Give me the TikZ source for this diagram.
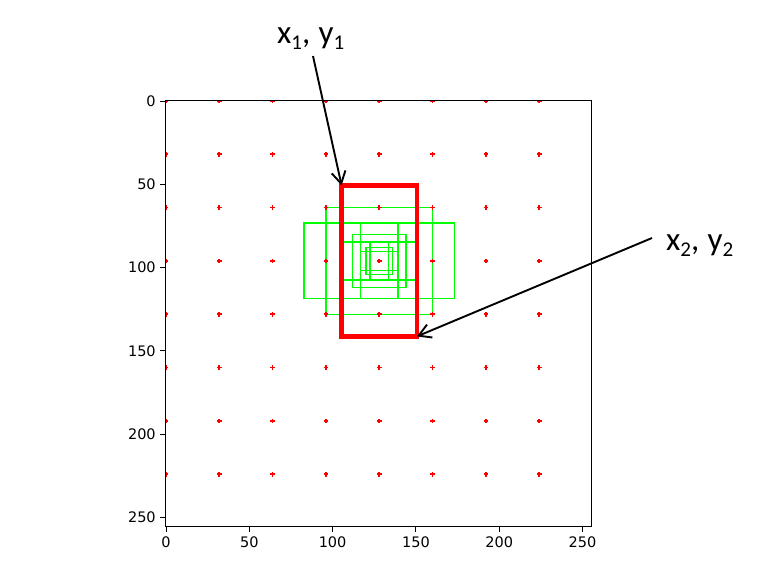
\documentclass[tikz,border=0pt]{standalone}
\usepackage{fontspec}
\newfontfamily\tickfont{DejaVu Sans}
\newfontfamily\notefont{Carlito}
\usetikzlibrary{arrows.meta}
\newcommand{\pidx}[1]{\raisebox{-6.5pt}{\fontsize{21}{22}\selectfont #1}}
\tikzset{
  axisframe/.style={draw=black, line width=1pt},
  tickmark/.style={line width=0.9pt},
  ticklabel/.style={font=\tickfont\fontsize{14.5}{16}\selectfont, inner sep=0pt},
  griddot/.style={red, line width=1.7pt},
  anchorbox/.style={draw=green, line width=1.5pt},
  gtbox/.style={draw=red, line width=4.2pt},
  cornerlabel/.style={font=\notefont\fontsize{33}{36}\selectfont, inner sep=1pt},
  ptarrow/.style={-{Straight Barb[length=12pt, width=14pt]}, line width=1.9pt}
}

\begin{document}
\begin{tikzpicture}[x=1pt, y=-1pt]
  \useasboundingbox (0,0) rectangle (758,587);
  % image axes, data units with 0 at the top left
  \begin{scope}[shift={(166,101)}, x=1.666pt, y=-1.666pt]
    \begin{scope}
      \clip (-0.5,-0.5) rectangle (255.5,255.5);
      % anchors round (128,96)
      \foreach \w/\h in {16/16, 22.6/11.3, 11.3/22.6, 32/32, 45.3/22.6, 22.6/45.3, 64/64, 90.5/45.3, 45.3/90.5}
        \draw[anchorbox] (128-\w/2,96-\h/2) rectangle (128+\w/2,96+\h/2);
      \foreach \i in {0,...,7}
        \foreach \j in {0,...,7}
          \draw[griddot] (32*\i,32*\j) +(-1.4,0) -- +(1.4,0) +(0,-1.4) -- +(0,1.4);
      \coordinate (gt1) at (105.4,50.7);
      \coordinate (gt2) at (150.6,141.3);
      \draw[gtbox] (gt1) rectangle (gt2);
    \end{scope}
    \draw[axisframe] (-0.5,-0.5) rectangle (255.5,255.5);
    \foreach \t in {0,50,...,250} {
      \draw[tickmark] (\t,255.5) -- (\t,258.5) node[ticklabel, anchor=north, yshift=-5pt] (xt\t) {\t};
      \draw[tickmark] (-0.5,\t) -- (-3.5,\t) node[ticklabel, anchor=east, xshift=-4pt] (yt\t) {\t};
    }
  \end{scope}

  \node[cornerlabel, anchor=base west] (p1) at (276,43) {x\pidx{1},\hspace{0.25em}y\pidx{1}};
  \node[cornerlabel, anchor=base west] (p2) at (665,250) {x\pidx{2},\hspace{0.25em}y\pidx{2}};
  \draw[ptarrow] (313,56) -- (gt1);
  \draw[ptarrow] (652,238) -- (gt2);
\end{tikzpicture}
\end{document}
